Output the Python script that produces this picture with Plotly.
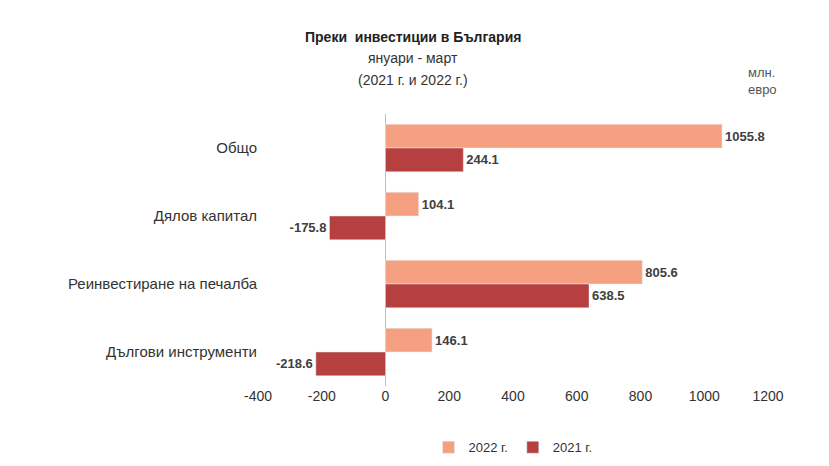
import plotly.graph_objects as go

categories = ["Общо", "Дялов капитал", "Реинвестиране на печалба", "Дългови инструменти"]
values_2022 = [1055.8, 104.1, 805.6, 146.1]
values_2021 = [244.1, -175.8, 638.5, -218.6]
x_ticks = [-400, -200, 0, 200, 400, 600, 800, 1000, 1200]

label_font = dict(family="Liberation Sans, Arial", size=13, color="#404040", weight="bold")

fig = go.Figure()
fig.add_trace(go.Bar(
    y=categories, x=values_2022, orientation="h", name="2022 г.",
    marker_color="#F5A080", text=[f"{v:.1f}" for v in values_2022],
    textposition="outside", cliponaxis=False, textfont=label_font,
))
fig.add_trace(go.Bar(
    y=categories, x=values_2021, orientation="h", name="2021 г.",
    marker_color="#B5403F", text=[f"{v:.1f}" for v in values_2021],
    textposition="outside", cliponaxis=False, textfont=label_font,
))

T, B = 106, 80
plot_h = 466 - T - B


def py(pix):
    return (466 - B - pix) / plot_h


def px(pix):
    return (pix - 258) / 510


fig.update_layout(
    width=829, height=466,
    paper_bgcolor="white", plot_bgcolor="white",
    font=dict(family="Liberation Sans, Arial", size=14, color="#333333"),
    barmode="group", bargap=0.3, bargroupgap=0,
    margin=dict(l=250, r=69, t=T, b=B),
    showlegend=True,
    legend=dict(orientation="h", x=0.5, xanchor="center", y=-0.17, yanchor="top",
                font=dict(size=13)),
    xaxis=dict(range=[-400, 1200], tickvals=x_ticks, ticktext=[str(t) for t in x_ticks],
               showgrid=False, zeroline=True, zerolinecolor="#BFBFBF", zerolinewidth=1,
               ticks="", tickfont=dict(size=14), showline=False),
    yaxis=dict(autorange="reversed", showgrid=False, ticks="", ticklen=0,
               tickfont=dict(size=15), automargin=False),
    annotations=[
        dict(text="<b>Преки  инвестиции в България</b>", x=px(413), y=py(27),
             font=dict(size=14, color="#222222")),
        dict(text="януари - март", x=px(413), y=py(48), font=dict(size=14)),
        dict(text="(2021 г. и 2022 г.)", x=px(413), y=py(71), font=dict(size=14)),
        dict(text="млн.<br>евро", x=px(762), y=py(72), align="left",
             font=dict(size=13, color="#555555")),
    ],
)
fig.update_annotations(xref="paper", yref="paper", showarrow=False,
                       xanchor="center", yanchor="middle")

fig.write_html("out.html")
